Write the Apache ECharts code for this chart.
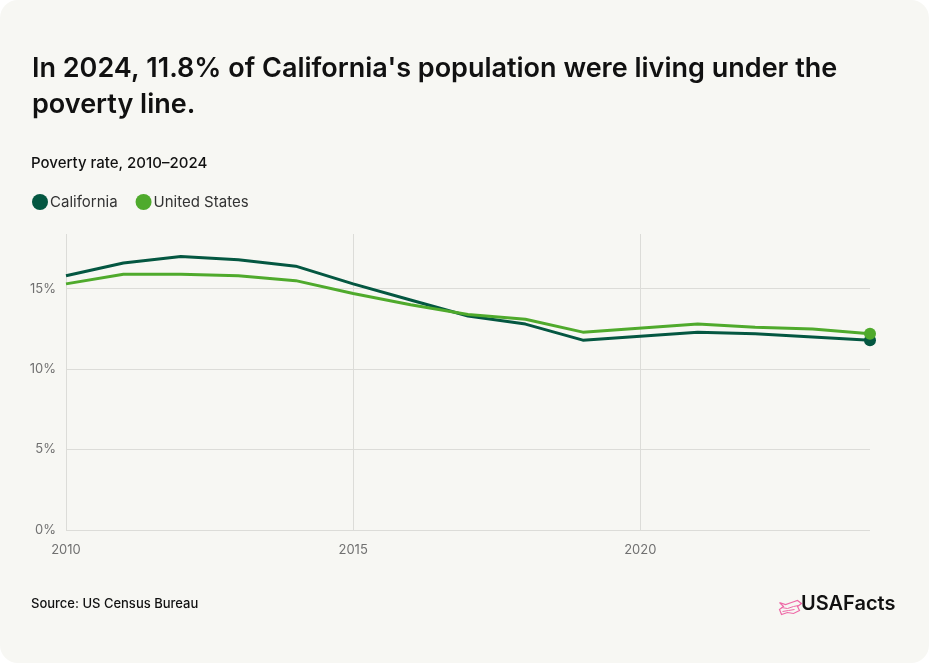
<!DOCTYPE html>
<html>
<head>
<meta charset="utf-8">
<script src="https://cdn.jsdelivr.net/npm/echarts@6/dist/echarts.min.js"></script>
<style>
  html, body { margin: 0; padding: 0; background: #ffffff; }
  #chart { width: 929px; height: 663px; background: #f7f7f3; border-radius: 18px; overflow: hidden; }
</style>
</head>
<body>
<div id="chart"></div>
<script>
// poverty rate, percent (2020 not published, line connects across it)
const years = ['2010','2011','2012','2013','2014','2015','2016','2017','2018','2019','2020','2021','2022','2023','2024']
const california = [15.8, 16.6, 17.0, 16.8, 16.4, 15.3, 14.3, 13.3, 12.8, 11.8, null, 12.3, 12.2, 12.0, 11.8]
const unitedStates = [15.3, 15.9, 15.9, 15.8, 15.5, 14.7, 14.0, 13.4, 13.1, 12.3, null, 12.8, 12.6, 12.5, 12.2]

const caColor = '#045741'
const usColor = '#4faa2c'

// only the last point gets a dot
const withEndDot = (arr) => arr.map((v, i) => i === arr.length - 1
  ? { value: v, symbol: 'circle', symbolSize: 12 }
  : v)

var myChart = echarts.init(document.getElementById('chart'))

myChart.setOption({
  title: [
    {
      text: "In 2024, 11.8% of California's population were living under the\npoverty line.",
      left: 27, top: 46,
      textStyle: { fontFamily: 'Inter', fontWeight: 600, fontSize: 27, lineHeight: 36, color: '#111111' }
    },
    {
      text: 'Poverty rate, 2010–2024',
      left: 26, top: 151,
      textStyle: { fontFamily: 'Inter', fontWeight: 500, fontSize: 15, color: '#111111' }
    }
  ],
  legend: {
    left: 27, top: 189,
    icon: 'circle',
    itemWidth: 16, itemHeight: 16, itemGap: 18,
    textStyle: { fontFamily: 'Inter', fontSize: 15, color: '#333333', padding: [0, 0, 0, -3] },
    data: ['California', 'United States']
  },
  grid: { left: 66, right: 59, top: 234, bottom: 133 },
  xAxis: {
    type: 'category',
    boundaryGap: false,
    data: years,
    axisLine: { show: false },
    axisTick: { show: false },
    axisLabel: { interval: 4, color: '#707070', fontFamily: 'Inter', fontSize: 13, margin: 14 },
    splitLine: { show: true, interval: 4, lineStyle: { color: '#dcdcd8', width: 1 } }
  },
  yAxis: {
    type: 'value',
    min: 0, max: 18.4, interval: 5,
    axisLine: { show: false },
    axisTick: { show: false },
    axisLabel: {
      color: '#707070', fontFamily: 'Inter', fontSize: 13, margin: 10,
      formatter: (v) => (v % 5 === 0 ? v + '%' : '')
    },
    splitLine: { showMaxLine: false, lineStyle: { color: '#dcdcd8', width: 1 } }
  },
  series: [
    {
      name: 'California', type: 'line', connectNulls: true,
      symbol: 'none', color: caColor,
      lineStyle: { width: 3, color: caColor },
      data: withEndDot(california)
    },
    {
      name: 'United States', type: 'line', connectNulls: true,
      symbol: 'none', color: usColor,
      lineStyle: { width: 3, color: usColor },
      data: withEndDot(unitedStates)
    }
  ],
  graphic: [
    {
      type: 'text', left: 31, top: 598,
      style: { text: 'Source: US Census Bureau', fontFamily: 'Inter', fontWeight: 500, fontSize: 13, fill: '#111111' }
    },
    {
      type: 'group', left: 777, top: 598,
      children: [
        { type: 'polyline', shape: { points: [[0,2],[6,4],[12,2],[18,0],[22,3],[18,6],[20,10],[14,13],[8,12],[2,14],[0,9],[4,6],[0,2]] },
          style: { stroke: '#ee6aa7', lineWidth: 1.2, fill: 'none' } },
        { type: 'polyline', shape: { points: [[2,7],[8,8],[14,6],[19,5]] },
          style: { stroke: '#ee6aa7', lineWidth: 1, fill: 'none' } },
        { type: 'polyline', shape: { points: [[3,11],[9,10],[15,9]] },
          style: { stroke: '#ee6aa7', lineWidth: 1, fill: 'none' } }
      ]
    },
    {
      type: 'text', left: 801, top: 594,
      style: { text: 'USAFacts', fontFamily: 'Inter', fontWeight: 600, fontSize: 20, fill: '#111111' }
    }
  ]
})
</script>
</body>
</html>
